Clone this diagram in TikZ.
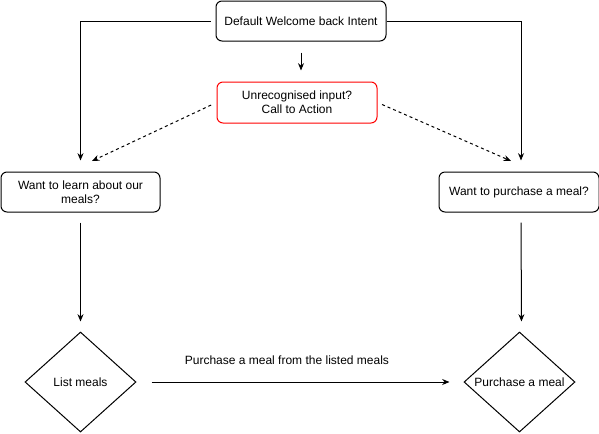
\documentclass[tikz,border=0pt]{standalone}
\usepackage{fontspec}
\setmainfont{Liberation Sans}
\usetikzlibrary{arrows.meta,shapes.geometric}
\begin{document}
\begin{tikzpicture}[x=0.75pt,y=-0.75pt,
  every node/.style={font=\fontsize{9}{10.5}\selectfont},
  box/.style={draw=black,line width=0.75pt,rounded corners=4.5pt,inner sep=0pt,align=center},
  redbox/.style={box,draw=red},
  dia/.style={draw=black,line width=0.75pt,diamond,aspect=1.1,inner sep=0pt,align=center},
  conn/.style={line width=0.75pt,-{Stealth[length=5.5pt,width=4.5pt]}},
  dconn/.style={conn,dash pattern=on 2.25pt off 2.25pt}]
\useasboundingbox (0,0) rectangle (599,433);
\node[box,minimum width=127.5pt,minimum height=30pt] (dwi) at (301,21) {Default Welcome back Intent};
\node[redbox,minimum width=120pt,minimum height=30.75pt] (un) at (297,102.5) {Unrecognised input?\\ Call to Action};
\node[box,minimum width=119.25pt,minimum height=30pt] (learn) at (80.5,192) {Want to learn about our\\meals?};
\node[box,minimum width=120pt,minimum height=30pt] (buy) at (519,192) {Want to purchase a meal?};
\node[dia,minimum width=83.25pt,minimum height=75pt] (list) at (80.5,382) {List meals};
\node[dia,minimum width=83.25pt,minimum height=75pt] (pm) at (519.5,382) {Purchase a meal};
\coordinate (dl) at (92,161);
\coordinate (dr) at (511,161);
\draw[conn,shorten <=3.75pt,shorten >=8.25pt] (dwi.west) -| (learn.north);
\draw[conn,shorten >=8.25pt] (dwi.east) -| ([xshift=1.5pt]buy.north);
\draw[conn,shorten <=8.25pt,shorten >=8.25pt] (dwi.south) -- (dwi.south |- un.north);
\draw[dconn,shorten <=4.5pt] (un.west) -- (dl);
\draw[dconn,shorten <=3.75pt] (un.east) -- (dr);
\draw[conn,shorten <=7.5pt,shorten >=7.5pt] (learn.south) -- (list.north);
\draw[conn,shorten <=7.5pt,shorten >=7.5pt] ([xshift=1.5pt]buy.south) -- ([xshift=1.5pt]pm.north);
\draw[conn,shorten <=11.25pt,shorten >=10.5pt] (list.east) -- (pm.west)
  node[pos=0.46,above=9pt] (lbl) {Purchase a meal from the listed meals};
\end{tikzpicture}
\end{document}
